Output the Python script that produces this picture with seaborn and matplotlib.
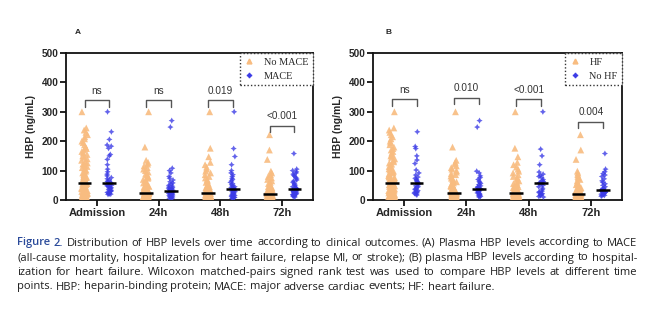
import numpy as np
import pandas as pd
import matplotlib
matplotlib.use("Agg")
import matplotlib.pyplot as plt
import seaborn as sns
from matplotlib.lines import Line2D

# ---------------------------------------------------------------- data
times = ["Admission", "24h", "48h", "72h"]
y_ticks = [0, 100, 200, 300, 400, 500]

# Panel A -- No MACE
no_mace_adm = [300, 245, 238, 230, 222, 215, 208, 200, 195, 188, 180, 175, 170, 165, 160,
               155, 150, 145, 140, 135, 130, 126, 122, 118, 114, 110, 106, 102, 98, 95,
               92, 89, 86, 83, 80, 78, 76, 74, 72, 70, 68, 66, 64, 62, 60, 58, 57,
               56, 54, 52, 50, 48, 46, 44, 42, 40, 38, 36, 35, 34, 32, 30, 29, 28, 26,
               25, 24, 22, 21, 20, 19, 18, 17, 16, 15, 14, 13, 12, 12, 11, 10, 10, 9, 9,
               8, 8, 7, 7, 6, 6, 5, 5, 4]
no_mace_24h = [300, 180, 135, 128, 122, 116, 110, 105, 100, 95, 90, 86, 82, 78, 74, 70,
               66, 62, 58, 55, 52, 49, 46, 44, 42, 40, 38, 36, 34, 32, 30, 29, 28, 27, 26,
               25, 24, 23, 22, 21, 20, 19, 18, 17, 16, 15, 15, 14, 13, 12, 12, 11, 10, 10,
               9, 9, 8, 8, 7, 7, 6, 6, 5, 5, 4, 4, 3, 3, 2, 2, 1]
no_mace_48h = [300, 176, 147, 128, 120, 112, 105, 98, 92, 86, 80, 75, 70, 65, 60, 56, 52,
               48, 45, 42, 40, 38, 36, 34, 32, 30, 28, 27, 26, 25, 24, 23, 22, 21, 20, 19,
               18, 17, 16, 15, 14, 13, 12, 12, 11, 10, 10, 9, 9, 8, 8, 7, 7, 6, 6, 5, 5,
               4, 4, 3, 2]
no_mace_72h = [222, 170, 138, 98, 92, 86, 80, 75, 70, 65, 60, 56, 52, 48, 45, 42, 39, 36,
               34, 32, 30, 28, 27, 26, 25, 24, 23, 22, 21, 20, 19, 18, 17, 16, 15, 14, 13,
               12, 12, 11, 10, 10, 9, 9, 8, 8, 7, 7, 6, 6, 5, 5, 4, 3, 2]

# Panel A -- MACE
mace_adm = [300, 232, 206, 187, 183, 176, 155, 150, 138, 120, 105, 96, 88, 82, 76, 72, 68,
            64, 62, 60, 57, 55, 53, 50, 48, 46, 44, 42, 40, 38, 36, 34, 32, 30, 28, 26, 24,
            22, 21, 20, 19]
mace_24h = [270, 248, 108, 100, 92, 80, 74, 68, 62, 58, 54, 50, 47, 44, 42, 40, 38, 36, 35,
            33, 32, 31, 30, 29, 28, 27, 26, 25, 24, 23, 22, 21, 20, 18, 16, 14, 12, 10, 8,
            6, 5]
mace_48h = [300, 175, 148, 120, 100, 92, 86, 80, 74, 70, 65, 60, 56, 52, 48, 45, 43, 41, 40,
            38, 37, 36, 35, 34, 32, 30, 28, 26, 24, 22, 20, 18, 16, 15, 14, 12, 10, 9, 8, 6,
            5]
mace_72h = [158, 105, 100, 96, 92, 88, 84, 80, 76, 72, 68, 64, 60, 56, 52, 48, 45, 42, 40,
            39, 38, 37, 36, 34, 32, 30, 29, 28, 27, 26, 25, 24, 22, 20, 19, 18, 16, 15, 14,
            12, 10]

# Panel B -- HF
hf_adm = [300, 245, 238, 230, 222, 215, 208, 200, 195, 188, 180, 175, 170, 165, 160,
          155, 150, 145, 140, 135, 130, 126, 122, 118, 114, 110, 106, 102, 98, 95,
          92, 89, 86, 83, 80, 78, 76, 74, 72, 70, 68, 66, 64, 62, 60, 58, 57,
          56, 54, 52, 50, 48, 46, 44, 42, 40, 38, 36, 35, 34, 32, 30, 29, 28, 26,
          25, 24, 22, 21, 20, 19, 18, 17, 16, 15, 14, 13, 12, 12, 11, 10, 10, 9, 9,
          8, 8, 7, 7, 6, 6, 5, 5, 4]
hf_24h = [300, 180, 135, 128, 122, 116, 110, 105, 100, 95, 90, 86, 82, 78, 74, 70,
          66, 62, 58, 55, 52, 49, 46, 44, 42, 40, 38, 36, 34, 32, 30, 29, 28, 27, 26,
          25, 24, 23, 22, 21, 20, 19, 18, 17, 16, 15, 15, 14, 13, 12, 12, 11, 10, 10,
          9, 9, 8, 8, 7, 7, 6, 6, 5, 5, 4, 4, 3, 3, 2, 2, 1]
hf_48h = [300, 176, 147, 128, 120, 112, 105, 98, 92, 86, 80, 75, 70, 65, 60, 56, 52,
          48, 45, 42, 40, 38, 36, 34, 32, 30, 28, 27, 26, 25, 24, 23, 22, 21, 20, 19,
          18, 17, 16, 15, 14, 13, 12, 12, 11, 10, 10, 9, 9, 8, 8, 7, 7, 6, 6, 5, 5,
          4, 4, 3, 2]
hf_72h = [222, 170, 138, 98, 92, 86, 80, 75, 70, 65, 60, 56, 52, 48, 45, 42, 39, 36,
          34, 32, 30, 28, 27, 26, 25, 24, 23, 22, 21, 20, 19, 18, 17, 16, 15, 14, 13,
          12, 12, 11, 10, 10, 9, 9, 8, 8, 7, 7, 6, 6, 5, 5, 4, 3, 2]

# Panel B -- No HF
no_hf_adm = [232, 182, 175, 150, 136, 124, 102, 92, 85, 78, 74, 70, 66, 63, 61, 59, 57, 55,
             52, 48, 45, 42, 38, 35, 32, 28, 26, 24, 22, 19, 17]
no_hf_24h = [270, 248, 98, 92, 82, 76, 70, 64, 60, 56, 52, 48, 45, 43, 41, 39, 38, 36, 34,
             32, 30, 28, 26, 24, 22, 20, 18, 16, 14, 12, 10]
no_hf_48h = [300, 173, 150, 120, 95, 88, 84, 80, 76, 70, 66, 63, 61, 59, 58, 57, 56, 54, 50,
             45, 40, 35, 30, 28, 25, 22, 20, 17, 15, 12, 10]
no_hf_72h = [158, 105, 96, 90, 85, 80, 72, 65, 60, 55, 50, 45, 40, 37, 35, 33, 32, 31, 30,
             29, 28, 27, 26, 25, 24, 22, 20, 18, 16, 15, 13]

groups_a = ["No MACE", "MACE"]
groups_b = ["HF", "No HF"]
pvals_a = ["ns", "ns", "0.019", "<0.001"]
pvals_b = ["ns", "0.010", "<0.001", "0.004"]
bracket_a = [340, 340, 340, 253]
bracket_b = [342, 348, 343, 266]

caption_lines = [
    "Figure 2. Distribution of HBP levels over time according to clinical outcomes. (A) Plasma HBP levels according to MACE",
    "(all-cause mortality, hospitalization for heart failure, relapse MI, or stroke); (B) plasma HBP levels according to hospital-",
    "ization for heart failure. Wilcoxon matched-pairs signed rank test was used to compare HBP levels at different time",
    "points. HBP: heparin-binding protein; MACE: major adverse cardiac events; HF: heart failure.",
]

# ---------------------------------------------------------------- style
ORANGE = "#F8BC80"
BLUE = "#3C3CE6"
sns.set_style("ticks")
plt.rcParams["font.family"] = ["Liberation Sans", "DejaVu Sans"]
np.random.seed(7)

W, H = 650, 333
fig = plt.figure(figsize=(W / 100, H / 100), dpi=100)


def build(first, second, labels):
    rows = []
    for t, vals in zip(times, first):
        rows += [(t, labels[0], v) for v in vals]
    for t, vals in zip(times, second):
        rows += [(t, labels[1], v) for v in vals]
    return pd.DataFrame(rows, columns=["time", "group", "value"])


def panel(rect, df, labels, pvals, tops, tag, tag_xy):
    ax = fig.add_axes(rect)
    pal = {labels[0]: ORANGE, labels[1]: BLUE}
    common = dict(x="time", y="value", hue="group", hue_order=labels, order=times,
                  dodge=True, legend=False, ax=ax)
    sns.stripplot(data=df[df["group"] == labels[0]], jitter=0.1, marker="^", size=4.9,
                  alpha=0.9, linewidth=0, palette=pal, **common)
    sns.stripplot(data=df[df["group"] == labels[1]], jitter=0.075, marker=(4, 1, 0),
                  size=4.4, alpha=0.8, linewidth=0, palette=pal, **common)
    # median lines
    sns.boxplot(data=df, gap=0.45, showbox=False, showcaps=False, showfliers=False,
                whis=0, whiskerprops={"linewidth": 0},
                medianprops={"color": "black", "linewidth": 1.8, "zorder": 5}, **common)

    ax.set_xlim(-0.5, 3.5)
    ax.set_ylim(0, 500)
    ax.set_yticks(y_ticks)
    ax.set_xlabel("")
    ax.set_ylabel("HBP (ng/mL)", fontsize=7.5, fontweight="bold", labelpad=4)
    for s in ax.spines.values():
        s.set_visible(True)
        s.set_linewidth(1.3)
        s.set_color("#111111")
    ax.tick_params(axis="both", direction="out", length=4, width=1.3, color="#111111")
    ax.tick_params(axis="y", labelsize=7.2, pad=1.5)
    ax.tick_params(axis="x", labelsize=8, pad=2)
    for lab in ax.get_xticklabels() + ax.get_yticklabels():
        lab.set_fontweight("bold")

    # significance brackets
    for i, (p, top) in enumerate(zip(pvals, tops)):
        x0, x1 = i - 0.2, i + 0.2
        ax.plot([x0, x0, x1, x1], [top - 22, top, top, top - 22], color="#555555",
                lw=1.0, zorder=6, clip_on=False)
        ax.text(i, top + 32, p, ha="center", va="center", fontsize=7.2, color="#333333")

    handles = [Line2D([], [], ls="", marker="^", ms=3.5, color=ORANGE),
               Line2D([], [], ls="", marker=(4, 1, 0), ms=3.5, color=BLUE)]
    leg = ax.legend(handles, labels, loc="upper right", borderaxespad=0, frameon=True,
                    fancybox=False, prop={"family": "Liberation Serif", "size": 7.4},
                    handlelength=1.0, handletextpad=0.9, borderpad=0.45,
                    labelspacing=0.45)
    fr = leg.get_frame()
    fr.set_edgecolor("#333333")
    fr.set_linestyle((0, (1, 1.5)))
    fr.set_linewidth(1.0)
    fr.set_alpha(1)

    fig.text(tag_xy[0] / W, 1 - tag_xy[1] / H, tag, fontsize=6, fontweight="bold",
             ha="center", va="center")
    return ax


df_a = build([no_mace_adm, no_mace_24h, no_mace_48h, no_mace_72h],
             [mace_adm, mace_24h, mace_48h, mace_72h], groups_a)
df_b = build([hf_adm, hf_24h, hf_48h, hf_72h],
             [no_hf_adm, no_hf_24h, no_hf_48h, no_hf_72h], groups_b)

panel([66 / W, 1 - 200 / H, 247 / W, 147 / H], df_a, groups_a, pvals_a, bracket_a, "A", (78, 32))
panel([373 / W, 1 - 200 / H, 249 / W, 147 / H], df_b, groups_b, pvals_b, bracket_b, "B", (388, 32))

# ---------------------------------------------------------------- caption (justified)
renderer = fig.canvas.get_renderer()
x_left, x_right = 17, 637
line_y = [243, 258, 272.5, 287]


def word_width(word, **kw):
    t = fig.text(0, 0, word, **kw)
    w = t.get_window_extent(renderer).width
    t.remove()
    return w


# pick the caption size so the first line sets naturally just inside the column
base = dict(family=["Open Sans", "DejaVu Sans"], fontsize=7.0)
natural = word_width(caption_lines[0], **base)
cap_font = dict(base, fontsize=7.0 * (x_right - x_left) * 0.985 / natural)

space_w = word_width("a b", **cap_font) - word_width("ab", **cap_font)
for n, (line, yy) in enumerate(zip(caption_lines, line_y)):
    words = line.split(" ")
    styles = []
    for k, w in enumerate(words):
        if n == 0 and k < 2:
            styles.append(dict(cap_font, color="#2A4A9A", fontweight="semibold"))
        else:
            styles.append(dict(cap_font, color="#1E1E1E"))
    widths = [word_width(w, **s) for w, s in zip(words, styles)]
    if n == len(caption_lines) - 1:
        gap = space_w
    else:
        gap = (x_right - x_left - sum(widths)) / (len(words) - 1)
    x = x_left
    for w, s, wd in zip(words, styles, widths):
        fig.text(x / W, 1 - yy / H, w, ha="left", va="center", **s)
        x += wd + gap

fig.savefig("out.png", dpi=100)
